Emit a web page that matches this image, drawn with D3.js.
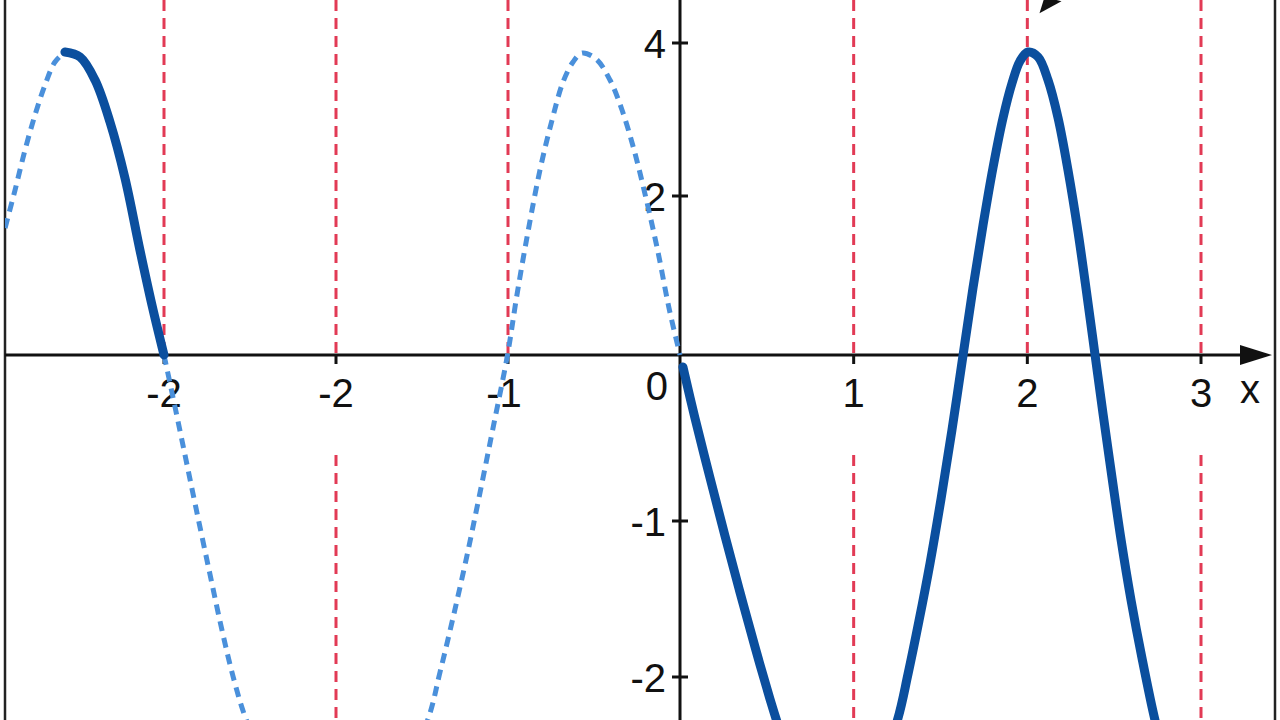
<!DOCTYPE html>
<html>
<head>
<meta charset="utf-8">
<script src="https://cdn.jsdelivr.net/npm/d3@7"></script>
<style>
  html, body { margin: 0; padding: 0; background: #fff; }
  svg { display: block; }
  text { font-family: "Liberation Sans", Arial, sans-serif; fill: #111; }
</style>
</head>
<body>
<div id="stage"></div>
<script>
// values (x in axis units, y in axis units)
var left_dashed = [[-3.924, 1.597], [-3.866, 2.078], [-3.808, 2.601], [-3.750, 3.059],
    [-3.692, 3.451], [-3.634, 3.752], [-3.576, 3.882]];
var left_solid = [[-3.576, 3.882], [-3.488, 3.817], [-3.401, 3.516], [-3.314, 2.967],
    [-3.227, 2.235], [-3.140, 1.321], [-3.070, 0.629], [-3.000, 0]];
var mid_dashed = [[-3.000, 0], [-2.953, -0.229], [-2.884, -0.572], [-2.814, -0.922],
    [-2.733, -1.340], [-2.663, -1.699], [-2.593, -2.019], [-2.517, -2.288], [-2.300, -2.800],
    [-2.000, -3.050], [-1.700, -2.800], [-1.471, -2.288], [-1.395, -1.968], [-1.320, -1.622],
    [-1.244, -1.250], [-1.169, -0.861], [-1.087, -0.440], [-1.003, 0], [-0.948, 0.755],
    [-0.884, 1.547], [-0.814, 2.340], [-0.744, 2.993], [-0.680, 3.490], [-0.622, 3.752],
    [-0.570, 3.869], [-0.488, 3.791], [-0.407, 3.516], [-0.337, 3.124], [-0.267, 2.601],
    [-0.198, 1.975], [-0.128, 1.296], [-0.064, 0.591], [0, 0]];
var right_solid = [[0.017, -0.072], [0.086, -0.380], [0.173, -0.741], [0.259, -1.096],
    [0.345, -1.455], [0.432, -1.808], [0.518, -2.141], [0.559, -2.288], [0.720, -2.800],
    [0.904, -3.050], [1.080, -2.800], [1.249, -2.288], [1.313, -1.981], [1.376, -1.641],
    [1.440, -1.269], [1.503, -0.867], [1.566, -0.452], [1.630, 0], [1.687, 0.843],
    [1.745, 1.635], [1.802, 2.366], [1.860, 3.020], [1.912, 3.477], [1.958, 3.765],
    [2.004, 3.882], [2.062, 3.817], [2.119, 3.516], [2.177, 3.020], [2.234, 2.340],
    [2.292, 1.547], [2.344, 0.742], [2.390, 0], [2.436, -0.355], [2.488, -0.741],
    [2.540, -1.122], [2.597, -1.506], [2.660, -1.878], [2.735, -2.276], [2.775, -2.436]];

var x_ticks = [-3, -2, -1, 1, 2, 3];
var x_tick_labels = ['-2', '-2', '-1', '1', '2', '3'];
var y_ticks = [4, 2, -1, -2];
var y_tick_labels = ['4', '2', '-1', '-2'];
var guide_x = [-3, -2, -1, 1, 2, 3];
var guide_below = [false, true, false, true, false, true];

var width = 1280, height = 720;

var svg = d3.select('#stage').append('svg')
    .attr('width', width)
    .attr('height', height);

// the drawing is not evenly scaled, so keep a few anchors
var x = d3.scaleLinear().domain([-3, 0, 3]).range([164, 680, 1201]);
var y = d3.scaleLinear().domain([-2, -1, 0, 2, 4]).range([677, 521, 355, 196, 43]);

var axis_y = y(0), axis_x = x(0);
var left_edge = 5, right_edge = 1275;

svg.append('defs').append('clipPath').attr('id', 'plot_clip')
    .append('rect').attr('x', left_edge).attr('y', 0)
    .attr('width', right_edge - left_edge).attr('height', height);

// frame sides
svg.append('line').attr('x1', left_edge).attr('x2', left_edge).attr('y1', 0).attr('y2', height)
    .attr('stroke', '#222').attr('stroke-width', 2.5);
svg.append('line').attr('x1', right_edge).attr('x2', right_edge).attr('y1', 0).attr('y2', height)
    .attr('stroke', '#222').attr('stroke-width', 2.5);

// red guides
var guides = svg.append('g').attr('stroke', '#e23a55').attr('stroke-width', 3)
    .attr('stroke-dasharray', '11,7');
guide_x.forEach(function (g, i) {
    guides.append('line').attr('x1', x(g)).attr('x2', x(g)).attr('y1', 0).attr('y2', axis_y);
    if (guide_below[i]) {
        guides.append('line').attr('x1', x(g)).attr('x2', x(g)).attr('y1', axis_y + 100).attr('y2', height);
    }
});

// axes
svg.append('line').attr('x1', left_edge).attr('x2', right_edge - 30)
    .attr('y1', axis_y).attr('y2', axis_y).attr('stroke', '#111').attr('stroke-width', 3);
svg.append('path')
    .attr('d', 'M' + (right_edge - 3) + ',' + axis_y + 'l-32,-10v20z')
    .attr('fill', '#111');
svg.append('line').attr('x1', axis_x).attr('x2', axis_x).attr('y1', 0).attr('y2', height)
    .attr('stroke', '#111').attr('stroke-width', 3);

svg.selectAll('line.xtick').data(x_ticks).enter().append('line')
    .attr('class', 'xtick')
    .attr('x1', function (d) { return x(d); }).attr('x2', function (d) { return x(d); })
    .attr('y1', axis_y).attr('y2', axis_y + 9)
    .attr('stroke', '#111').attr('stroke-width', 3);
svg.selectAll('text.xlabel').data(x_ticks).enter().append('text')
    .attr('class', 'xlabel')
    .attr('x', function (d) { return d === -1 ? x(d) - 4 : x(d); })
    .attr('y', axis_y + 52)
    .attr('text-anchor', 'middle')
    .attr('font-size', 40)
    .text(function (d, i) { return x_tick_labels[i]; });
svg.append('text').attr('x', axis_x - 12).attr('y', axis_y + 45)
    .attr('text-anchor', 'end').attr('font-size', 40).text('0');
svg.append('text').attr('x', x(3) + 49).attr('y', axis_y + 48)
    .attr('text-anchor', 'middle').attr('font-size', 40).text('x');

svg.selectAll('line.ytick').data(y_ticks).enter().append('line')
    .attr('class', 'ytick')
    .attr('x1', axis_x - 8).attr('x2', axis_x + 8)
    .attr('y1', function (d) { return y(d); }).attr('y2', function (d) { return y(d); })
    .attr('stroke', '#111').attr('stroke-width', 3);
svg.selectAll('text.ylabel').data(y_ticks).enter().append('text')
    .attr('class', 'ylabel')
    .attr('x', axis_x - 14)
    .attr('y', function (d) { return y(d) + 15; })
    .attr('text-anchor', 'end')
    .attr('font-size', 40)
    .text(function (d, i) { return y_tick_labels[i]; });

// curves
var line = d3.line()
    .x(function (d) { return x(d[0]); })
    .y(function (d) { return y(d[1]); })
    .curve(d3.curveCatmullRom.alpha(0.5));

var curves = svg.append('g').attr('clip-path', 'url(#plot_clip)').attr('fill', 'none');
[left_dashed, mid_dashed].forEach(function (pts) {
    curves.append('path').attr('d', line(pts))
        .attr('stroke', '#4a90db').attr('stroke-width', 5)
        .attr('stroke-dasharray', '10,7');
});
[left_solid, right_solid].forEach(function (pts) {
    curves.append('path').attr('d', line(pts))
        .attr('stroke', '#0b4f9e').attr('stroke-width', 9)
        .attr('stroke-linecap', 'round').attr('stroke-linejoin', 'round');
});

// small arrowhead cut off at the top edge
var tip_x = x(2.07), tip_y = y(4.39);
svg.append('path')
    .attr('d', 'M' + tip_x + ',' + tip_y + 'l5,-16l17,4z')
    .attr('fill', '#111');
</script>
</body>
</html>
